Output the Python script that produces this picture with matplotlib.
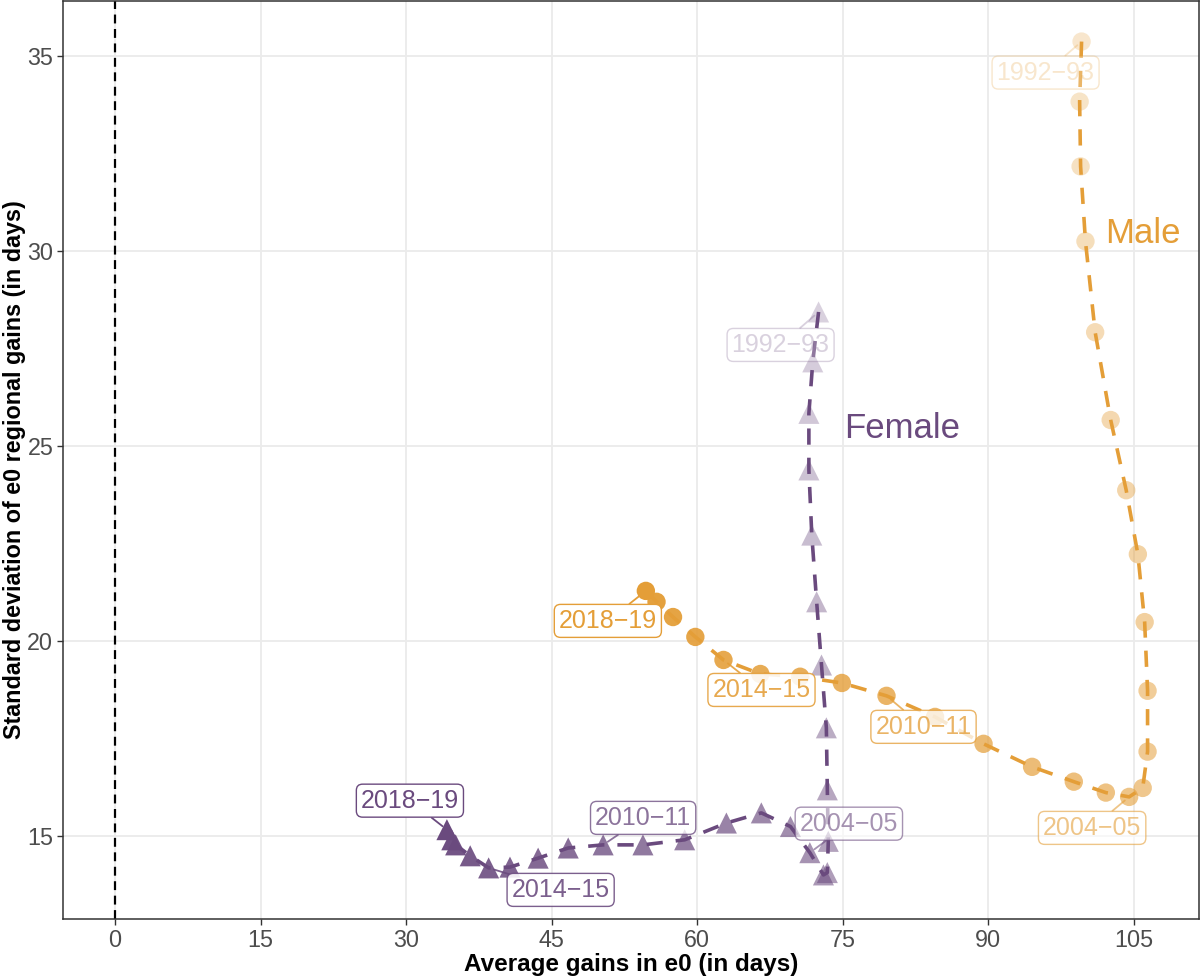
import matplotlib
matplotlib.use("Agg")
import matplotlib.pyplot as plt
from matplotlib.colors import to_rgba

plt.rcParams['font.family'] = ['Liberation Sans', 'DejaVu Sans']

# ---------------- data ----------------
periods = ['1992-93', '1993-94', '1994-95', '1995-96', '1996-97', '1997-98', '1998-99',
           '1999-00', '2000-01', '2001-02', '2002-03', '2003-04', '2004-05', '2005-06',
           '2006-07', '2007-08', '2008-09', '2009-10', '2010-11', '2011-12', '2012-13',
           '2013-14', '2014-15', '2015-16', '2016-17', '2017-18', '2018-19']

male_x = [99.6, 99.4, 99.5, 100.0, 101.0, 102.6, 104.2, 105.4, 106.1, 106.4, 106.4, 105.9,
          104.5, 102.1, 98.8, 94.5, 89.5, 84.5, 79.5, 74.9, 70.6, 66.5, 62.7, 59.8, 57.5,
          55.8, 54.7]
male_y = [35.36, 33.82, 32.16, 30.24, 27.91, 25.66, 23.86, 22.22, 20.48, 18.72, 17.16, 16.23,
          16.00, 16.11, 16.39, 16.77, 17.36, 18.05, 18.59, 18.92, 19.08, 19.15, 19.51, 20.10,
          20.61, 21.00, 21.28]

female_x = [72.5, 71.9, 71.5, 71.5, 71.8, 72.3, 72.8, 73.3, 73.4, 73.5, 73.4, 73.0, 71.6,
            69.6, 66.6, 63.0, 58.7, 54.4, 50.3, 46.7, 43.6, 40.7, 38.5, 36.6, 35.1, 34.7, 34.2]
female_y = [28.43, 27.15, 25.83, 24.38, 22.71, 21.00, 19.38, 17.77, 16.18, 14.86, 14.06, 14.00,
            14.57, 15.24, 15.59, 15.33, 14.90, 14.77, 14.77, 14.69, 14.43, 14.20, 14.18, 14.49,
            14.77, 14.90, 15.16]

labelled = ['1992-93', '2004-05', '2010-11', '2014-15', '2018-19']

x_ticks = [0, 15, 30, 45, 60, 75, 90, 105]
y_ticks = [15, 20, 25, 30, 35]

# ---------------- styles ----------------
MALE = '#E49E38'
FEMALE = '#6A4A7E'
alpha_min, alpha_max = 0.25, 1.0
n = len(periods)
alphas = [alpha_min + (alpha_max - alpha_min) * i / (n - 1) for i in range(n)]

# label offsets in pixels (box centre relative to point)
male_offsets = {'1992-93': (-36, -31), '2004-05': (-37, -31), '2010-11': (37, -31),
                '2014-15': (38, -30), '2018-19': (-38, -30)}
female_offsets = {'1992-93': (-38, -33), '2004-05': (39, 29), '2010-11': (40, 27),
                  '2014-15': (72, -22), '2018-19': (-37, 29)}

fig = plt.figure(figsize=(12, 9.77), dpi=100)
ax = fig.add_axes([63 / 1200, 1 - 919 / 977, 1136 / 1200, 918 / 977])

ax.set_xlim(-5.36, 111.7)
ax.set_ylim(12.87, 36.40)

ax.set_xticks(x_ticks)
ax.set_yticks(y_ticks)
ax.grid(True, color='#EBEBEB', lw=1.3, zorder=0)
ax.set_axisbelow(True)

ax.axvline(0, color='black', lw=1.6, ls=(0, (4, 2.5)), zorder=1)


def draw_series(xs, ys, color, marker, size, offsets):
    cols = [to_rgba(color, a) for a in alphas]
    ax.scatter(xs, ys, s=size, c=cols, marker=marker, edgecolors='none', zorder=2)
    ax.plot(xs, ys, color=color, lw=2.6, dashes=(4.5, 3.6), zorder=3)
    for p in labelled:
        i = periods.index(p)
        a = alphas[i]
        ax.annotate(p.replace('-', '\u2212'), xy=(xs[i], ys[i]), xytext=offsets[p],
                    textcoords='offset pixels', ha='center', va='center',
                    fontsize=18, color=to_rgba(color, a),
                    bbox=dict(boxstyle='round,pad=0.18,rounding_size=0.25',
                              fc=to_rgba('white', a), ec=to_rgba(color, a), lw=1.0),
                    arrowprops=dict(arrowstyle='-', color=to_rgba(color, a), lw=1.3,
                                    shrinkA=0, shrinkB=4),
                    zorder=5)


draw_series(male_x, male_y, MALE, 'o', 175, male_offsets)
draw_series(female_x, female_y, FEMALE, '^', 230, female_offsets)

ax.text(75.1, 25.45, 'Female', color=FEMALE, fontsize=25, ha='left', va='center', zorder=6)
ax.text(102.0, 30.44, 'Male', color=MALE, fontsize=25, ha='left', va='center', zorder=6)

for s in ax.spines.values():
    s.set_color('#333333')
    s.set_linewidth(1.1)
ax.tick_params(axis='both', length=4, width=1.0, color='#333333', labelcolor='#4D4D4D',
               labelsize=16.8, pad=3)

ax.set_xlabel('Average gains in e0 (in days)', fontsize=17.5, fontweight='bold', color='black')
ax.set_ylabel('Standard deviation of e0 regional gains (in days)', fontsize=16.8,
              fontweight='bold', color='black')
ax.xaxis.set_label_coords((631 - 63) / 1136, (919 - 953) / 918)
ax.yaxis.set_label_coords((26 - 63) / 1136, (919 - 470) / 918)

fig.savefig('out.png', dpi=100)
